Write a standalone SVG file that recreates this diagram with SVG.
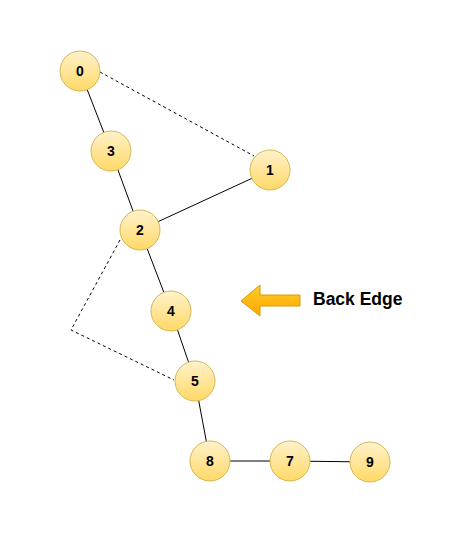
<svg xmlns="http://www.w3.org/2000/svg" width="469" height="533" viewBox="0 0 469 533">
<style>
.n{fill:url(#g);stroke:#d6b656;stroke-width:1}
.t{font-family:"Liberation Sans",Arial,sans-serif;font-weight:bold;font-size:14px;text-anchor:middle;fill:#000}
.e{stroke:#000;stroke-width:1;fill:none}
.d{stroke:#000;stroke-width:1;fill:none;stroke-dasharray:3 3}
</style>
<defs>
<linearGradient id="g" x1="0" y1="0" x2="0" y2="1">
<stop offset="0" stop-color="#fff2cc"/>
<stop offset="1" stop-color="#ffd966"/>
</linearGradient>
<linearGradient id="ag" x1="0" y1="0" x2="0" y2="1">
<stop offset="0" stop-color="#ffcd28"/>
<stop offset="1" stop-color="#ffa500"/>
</linearGradient>
</defs>
<rect width="469" height="533" fill="#fff"/>
<g id="connectors">
<line class="e" x1="80" y1="71" x2="111" y2="151"/>
<line class="e" x1="111" y1="151" x2="140" y2="230"/>
<line class="e" x1="140" y1="230" x2="270" y2="170"/>
<line class="e" x1="140" y1="230" x2="171" y2="311"/>
<line class="e" x1="171" y1="311" x2="195" y2="381"/>
<line class="e" x1="195" y1="381" x2="210" y2="461"/>
<line class="e" x1="210" y1="461" x2="290" y2="461"/>
<line class="e" x1="290" y1="461" x2="370" y2="462"/>
<line class="d" x1="100" y1="72" x2="254" y2="156"/>
<polyline class="d" points="120,240 71,330 174,380"/>
</g>
<g id="n0"><circle class="n" cx="80" cy="71" r="20"/><text class="t" x="80" y="76">0</text></g>
<g id="n3"><circle class="n" cx="111" cy="151" r="20"/><text class="t" x="111" y="156">3</text></g>
<g id="n1"><circle class="n" cx="270" cy="170" r="20"/><text class="t" x="270" y="175">1</text></g>
<g id="n2"><circle class="n" cx="140" cy="230" r="20"/><text class="t" x="140" y="235">2</text></g>
<g id="n4"><circle class="n" cx="171" cy="311" r="20"/><text class="t" x="171" y="316">4</text></g>
<g id="n5"><circle class="n" cx="195" cy="381" r="20"/><text class="t" x="195" y="386">5</text></g>
<g id="n8"><circle class="n" cx="210" cy="461" r="20"/><text class="t" x="210" y="466">8</text></g>
<g id="n7"><circle class="n" cx="290" cy="461" r="20"/><text class="t" x="290" y="466">7</text></g>
<g id="n9"><circle class="n" cx="370" cy="462" r="20"/><text class="t" x="370" y="467">9</text></g>
<g id="backedge">
<polygon points="241,301 260,285 260,295 300,295 300,306 260,306 260,316" fill="url(#ag)" stroke="#d79b00" stroke-width="1"/>
<text x="313" y="305" font-family="'Liberation Sans',Arial,sans-serif" font-weight="bold" font-size="17.5px" fill="#000">Back Edge</text>
</g>
</svg>
